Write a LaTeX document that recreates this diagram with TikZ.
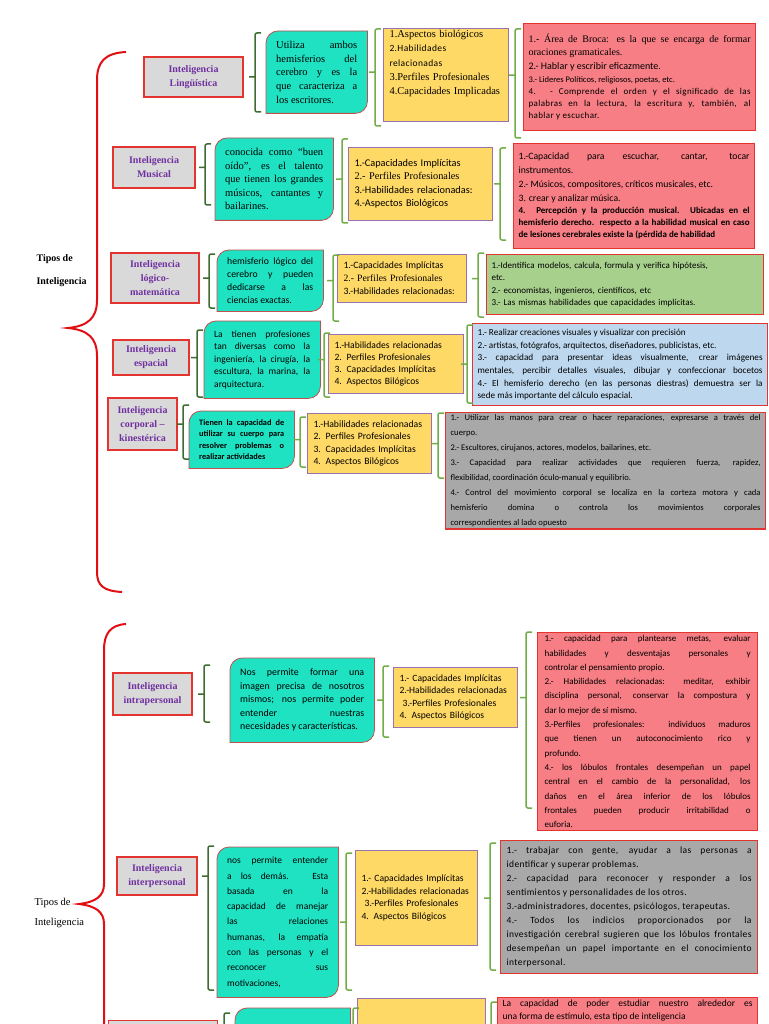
\documentclass[tikz,border=0pt]{standalone}
\usepackage{fontspec}
\setmainfont{Liberation Serif}
\newfontfamily\calibri{Carlito}
\newfontfamily\calibrisp{Carlito}[LetterSpace=4]
\usetikzlibrary{backgrounds}
\hyphenpenalty=10000
\exhyphenpenalty=10000

\definecolor{lblgrey}{HTML}{D9D9D9}
\definecolor{lblred}{HTML}{E3342F}
\definecolor{lblpurple}{HTML}{7030A0}
\definecolor{tealfill}{HTML}{1EE2C2}
\definecolor{tealline}{HTML}{C0504D}
\definecolor{yelfill}{HTML}{FFD966}
\definecolor{yelline}{HTML}{9A72B0}
\definecolor{pinkfill}{HTML}{F77E84}
\definecolor{greenfill}{HTML}{A8D08D}
\definecolor{bluefill}{HTML}{BDD7EE}
\definecolor{greyfill}{HTML}{A8A8A8}
\definecolor{darkbrk}{HTML}{3E6B2F}
\definecolor{lightbrk}{HTML}{70AD47}
\definecolor{bigred}{HTML}{E10F14}

\newcommand{\fsz}[2]{\fontsize{#1}{#2}\selectfont}
% bracket: [style]{left node}{x of the bar}{top}{bottom}
\newcommand{\grp}[5][brklight]{%
  \draw[#1] (#3+6,#4) -- (#3,#4) -- (#3,#5) -- (#3+6,#5)
    (#3,0 |- #2.east) -- (#3-6,0 |- #2.east);}

\begin{document}
\begin{tikzpicture}[x=1pt,y=-1pt,
    lbl/.style={draw=lblred, line width=1.2pt, fill=lblgrey, align=center,
      font=\bfseries\fsz{10}{14}, text=lblpurple, inner sep=1pt},
    dsc/.style={anchor=north west, inner xsep=10pt, inner ysep=2pt, align=justify},
    lst/.style={anchor=north west, draw=yelline, line width=1pt, fill=yelfill,
      inner xsep=6pt, inner ysep=2pt, align=left, font=\calibri\fsz{9}{13.5}},
    det/.style={anchor=north west, draw=lblred, line width=1.2pt, inner xsep=5pt,
      inner ysep=2pt, align=justify, font=\calibri},
    tealbg/.style={fill=tealfill, draw=tealline, line width=0.8pt},
    brkdark/.style={draw=darkbrk, line width=1.5pt, rounded corners=2pt},
    brklight/.style={draw=lightbrk, line width=1.5pt, rounded corners=2pt},
    bigbrace/.style={draw=bigred, line width=2pt}]
  \useasboundingbox (0,0) rectangle (768,1024);
  \clip (0,0) rectangle (768,1024);

  \node[anchor=west, align=left, font=\bfseries\fsz{10}{23}] (tipos1) at (33,270.5) {Tipos de\\Inteligencia};
  \node[anchor=west, align=left, font=\fsz{10.5}{20}] (tipos2) at (31,913) {Tipos de\\Inteligencia};

  \draw[bigbrace] (126,52) .. controls (105,53) and (97,62) .. (97,80) -- (97,300)
    .. controls (97,318) and (88,326) .. (68,328)
    .. controls (88,330) and (97,338) .. (97,356) -- (97,572)
    .. controls (97,586) and (104,591) .. (122,592);
  \draw[bigbrace] (126,624) .. controls (110,625) and (104,634) .. (104,650) -- (104,884)
    .. controls (104,896) and (96,902) .. (79,904)
    .. controls (96,906) and (104,912) .. (104,924) -- (104,1030);

  % linguistica
  \node[lbl, minimum width=99, minimum height=40] (l1) at (193.5,77) {Inteligencia\\Lingüística};
  \node[dsc, minimum width=101, minimum height=82, text width=81pt, font=\fsz{10.5}{13.75}] (t1) at (266,31)
    {Utiliza ambos\linebreak hemisferios del\linebreak cerebro y es la\linebreak que caracteriza a\linebreak los escritores.};
  \node[lst, minimum width=125, text width=113pt, text depth=82pt, font=\fsz{10.5}{14.2}] (y1) at (383,28)
    {1.Aspectos biológicos\\{\calibrisp\fsz{9.5}{14.2}2.Habilidades}\\{\calibrisp\fsz{9.5}{14.2}relacionadas}\\3.Perfiles Profesionales\\4.Capacidades Implicadas};
  \node[det, fill=pinkfill, minimum width=232, minimum height=107, text width=222pt] (p1) at (523,23)
    {\rmfamily\fsz{10}{13.5}1.- Área de Broca: es la que se encarga de formar\linebreak oraciones gramaticales.\par
     \calibri\fsz{10}{13.5}2.- Hablar y escribir eficazmente.\par
     \fsz{8.5}{13.5}3.- Lideres Políticos, religiosos, poetas, etc.\par
     \calibrisp\fsz{9}{13.5}4. - Comprende el orden y el significado de las\linebreak palabras en la lectura, la escritura y, también, al\linebreak hablar y escuchar.};

  % musical
  \node[lbl, minimum width=82, minimum height=41] (l2) at (154,167.5) {Inteligencia\\Musical};
  \node[dsc, minimum width=118, minimum height=82, text width=98pt, font=\fsz{10.5}{13.5}] (t2) at (215,138)
    {conocida como “buen\linebreak oído”, es el talento\linebreak que tienen los grandes\linebreak músicos, cantantes y\linebreak bailarines.};
  \node[lst, minimum width=144, minimum height=73, text width=132pt, font=\calibri\fsz{10.3}{13.5}] (y2) at (348,147)
    {1.-Capacidades Implícitas\\{\rmfamily 2.- Perfiles Profesionales}\\3.-Habilidades relacionadas:\\4.-Aspectos Biológicos};
  \node[det, fill=pinkfill, minimum width=241, minimum height=105, text width=231pt] (p2) at (513,143)
    {\fsz{9.7}{14}1.-Capacidad para escuchar, cantar, tocar\linebreak instrumentos.\par
     2.- Músicos, compositores, críticos musicales, etc.\par
     3. crear y analizar música.\par
     \bfseries\fsz{9}{14}4. Percepción y la producción musical. Ubicadas en el\linebreak hemisferio derecho. respecto a la habilidad musical en caso\linebreak de lesiones cerebrales existe la (pérdida de habilidad\parfillskip=0pt};

  % logico-matematica
  \node[lbl, minimum width=88, minimum height=50] (l3) at (155,278) {Inteligencia\\lógico-\\matemática};
  \node[dsc, minimum width=106, minimum height=61, text width=86pt, font=\calibri\fsz{9.7}{13.3}] (t3) at (217,250)
    {hemisferio lógico del\linebreak cerebro y pueden\linebreak dedicarse a las\linebreak ciencias exactas.};
  \node[lst, minimum width=129, minimum height=48, text width=117pt, font=\calibri\fsz{9.7}{13}] (y3) at (337,254)
    {1.-Capacidades Implícitas\\{\rmfamily 2.- Perfiles Profesionales}\\3.-Habilidades relacionadas:};
  \node[det, fill=greenfill, minimum width=277, minimum height=60, text width=267pt, align=left, font=\calibri\fsz{9}{12.3}] (g3) at (486,254)
    {1.-Identifica modelos, calcula, formula y verifica hipótesis,\\etc.\\2.- economistas, ingenieros, científicos, etc\\3.- Las mismas habilidades que capacidades implícitas.};

  % espacial
  \node[lbl, minimum width=76, minimum height=35] (l4) at (151,357.5) {Inteligencia\\espacial};
  \node[dsc, minimum width=116, minimum height=77, text width=96pt, font=\calibri\fsz{9.5}{12.5}] (t4) at (204,321)
    {La tienen profesiones\linebreak tan diversas como la\linebreak ingeniería, la cirugía, la\linebreak escultura, la marina, la\linebreak arquitectura.};
  \node[lst, minimum width=135, minimum height=59, text width=123pt, font=\calibri\fsz{9.6}{11.7}] (y4) at (328,334)
    {1.-Habilidades relacionadas\\2. Perfiles Profesionales\\3. Capacidades Implícitas\\4. Aspectos Bilógicos};
  \node[det, fill=bluefill, minimum width=295, minimum height=82, text width=285pt, font=\calibri\fsz{9.2}{12.7}] (b4) at (472,323)
    {1.- Realizar creaciones visuales y visualizar con precisión\par
     2.- artistas, fotógrafos, arquitectos, diseñadores, publicistas, etc.\par
     3.- capacidad para presentar ideas visualmente, crear imágenes\linebreak mentales, percibir detalles visuales, dibujar y confeccionar bocetos\linebreak
     4.- El hemisferio derecho (en las personas diestras) demuestra ser la\linebreak sede más importante del cálculo espacial.};

  % corporal
  \node[lbl, minimum width=69, minimum height=52] (l5) at (142.5,424) {Inteligencia\\corporal –\\kinestérica};
  \node[dsc, minimum width=105, minimum height=57, text width=85pt, font=\calibri\bfseries\fsz{8.3}{11.3}] (t5) at (189,411)
    {Tienen la capacidad de\linebreak utilizar su cuerpo para\linebreak resolver problemas o\linebreak realizar actividades};
  \node[lst, minimum width=124, minimum height=60, text width=112pt, font=\calibri\fsz{9.7}{12.3}] (y5) at (307,413)
    {1.-Habilidades relacionadas\\2. Perfiles Profesionales\\3. Capacidades Implícitas\\4. Aspectos Bilógicos};
  \node[det, fill=greyfill, minimum width=320, minimum height=113, text width=310pt, font=\calibri\fsz{8.6}{15}] (k5) at (445,412)
    {1.- Utilizar las manos para crear o hacer reparaciones, expresarse a través del\linebreak cuerpo.\par
     2.- Escultores, cirujanos, actores, modelos, bailarines, etc.\par
     3.- Capacidad para realizar actividades que requieren fuerza, rapidez,\linebreak flexibilidad, coordinación óculo-manual y equilibrio.\par
     4.- Control del movimiento corporal se localiza en la corteza motora y cada\linebreak hemisferio domina o controla los movimientos corporales\linebreak correspondientes al lado opuesto};

  % intrapersonal
  \node[lbl, minimum width=79, minimum height=42] (l6) at (152.5,694) {Inteligencia\\intrapersonal};
  \node[dsc, minimum width=144, minimum height=84, text width=124pt, font=\calibri\fsz{9.9}{13.5}] (t6) at (230,658)
    {Nos permite formar una\linebreak imagen precisa de nosotros\linebreak mismos; nos permite poder\linebreak entender nuestras\linebreak necesidades y características.};
  \node[lst, minimum width=124, minimum height=60, text width=112pt, font=\calibri\fsz{9.6}{12.5}] (y6) at (393,667)
    {1.- Capacidades Implícitas\\2.-Habilidades relacionadas\\\ 3.-Perfiles Profesionales\\4. Aspectos Bilógicos};
  \node[det, fill=pinkfill, minimum width=220, minimum height=198, text width=206pt, inner xsep=7pt, font=\calibri\fsz{9}{14.3}] (p6) at (537,632)
    {1.- capacidad para plantearse metas, evaluar\linebreak habilidades y desventajas personales y\linebreak controlar el pensamiento propio.\par
     2.- Habilidades relacionadas: meditar, exhibir\linebreak disciplina personal, conservar la compostura y\linebreak dar lo mejor de sí mismo.\par
     3.-Perfiles profesionales: individuos maduros\linebreak que tienen un autoconocimiento rico y\linebreak profundo.\par
     4.- los lóbulos frontales desempeñan un papel\linebreak central en el cambio de la personalidad, los\linebreak daños en el área inferior de los lóbulos\linebreak frontales pueden producir irritabilidad o\linebreak euforia.};

  % interpersonal
  \node[lbl, minimum width=80, minimum height=38] (l7) at (157,876) {Inteligencia\\interpersonal};
  \node[dsc, minimum width=121, minimum height=150, text width=101pt, font=\calibri\fsz{9.5}{15.3}] (t7) at (217,847)
    {nos permite entender\linebreak a los demás. Esta\linebreak basada en la\linebreak capacidad de manejar\linebreak las relaciones\linebreak humanas, la empatía\linebreak con las personas y el\linebreak reconocer sus\linebreak motivaciones,};
  \node[lst, minimum width=122, minimum height=95, text width=110pt, font=\calibri\fsz{9.6}{12.5}] (y7) at (355,850)
    {1.- Capacidades Implícitas\\2.-Habilidades relacionadas\\\ 3.-Perfiles Profesionales\\4. Aspectos Bilógicos};
  \node[det, fill=greyfill, minimum width=257, minimum height=133, text width=245pt, inner xsep=6pt, font=\calibrisp\fsz{9.5}{14}] (k7) at (500,840)
    {1.- trabajar con gente, ayudar a las personas a\linebreak identificar y superar problemas.\par
     2.- capacidad para reconocer y responder a los\linebreak sentimientos y personalidades de los otros.\par
     3.-administradores, docentes, psicólogos, terapeutas.\par
     4.- Todos los indicios proporcionados por la\linebreak investigación cerebral sugieren que los lóbulos frontales\linebreak desempeñan un papel importante en el conocimiento\linebreak interpersonal.};

  % fila cortada
  \node[lbl, minimum width=109, minimum height=50, anchor=north west] (l8) at (108,1020) {};
  \node[dsc, minimum width=115, minimum height=80] (t8) at (235,1008) {};
  \node[lst, minimum width=128, minimum height=80] (y8) at (357,998) {};
  \node[det, fill=pinkfill, minimum width=260, text width=250pt, text depth=70pt, font=\calibri\fsz{9.5}{13}] (p8) at (497,997)
    {La capacidad de poder estudiar nuestro alrededor es\linebreak una forma de estímulo, esta tipo de inteligencia\parfillskip=0pt};

  \begin{scope}[on background layer]
    \foreach \n in {t1,t2,t3,t4,t5,t6,t7,t8}
      \draw[tealbg] ([yshift=-12pt]\n.north west) arc[start angle=180,end angle=90,radius=12pt]
        -- (\n.north east) -- ([yshift=12pt]\n.south east) arc[start angle=0,end angle=-90,radius=12pt]
        -- (\n.south west) -- cycle;
  \end{scope}

  \grp[brkdark]{l1}{255}{33}{112}
  \grp{t1}{375}{29}{126}
  \grp{y1}{515}{29}{138}
  \grp[brkdark]{l2}{205}{144}{205}
  \grp{t2}{342}{139}{223}
  \grp{y2}{500}{148}{240}
  \grp[brkdark]{l3}{209}{254}{308}
  \grp{t3}{333}{255}{321}
  \grp{y3}{478}{253}{317}
  \grp[brkdark]{l4}{197}{330}{397}
  \grp{t4}{324}{333}{397}
  \grp{y4}{467}{325}{403}
  \grp[brkdark]{l5}{183}{405}{459}
  \grp{t5}{300}{417}{467}
  \grp{y5}{438}{413}{478}
  \grp[brkdark]{l6}{204}{665}{722}
  \grp{t6}{383}{666}{737}
  \grp{y6}{526}{632}{808}
  \grp[brkdark]{l7}{208}{846}{990}
  \grp{t7}{346}{853}{990}
  \grp{y7}{490}{843}{970}
  \grp[brkdark]{l8}{224}{1013}{1080}
  \grp{t8}{353}{1008}{1080}
  \grp{y8}{491}{1002}{1080}
\end{tikzpicture}
\end{document}
